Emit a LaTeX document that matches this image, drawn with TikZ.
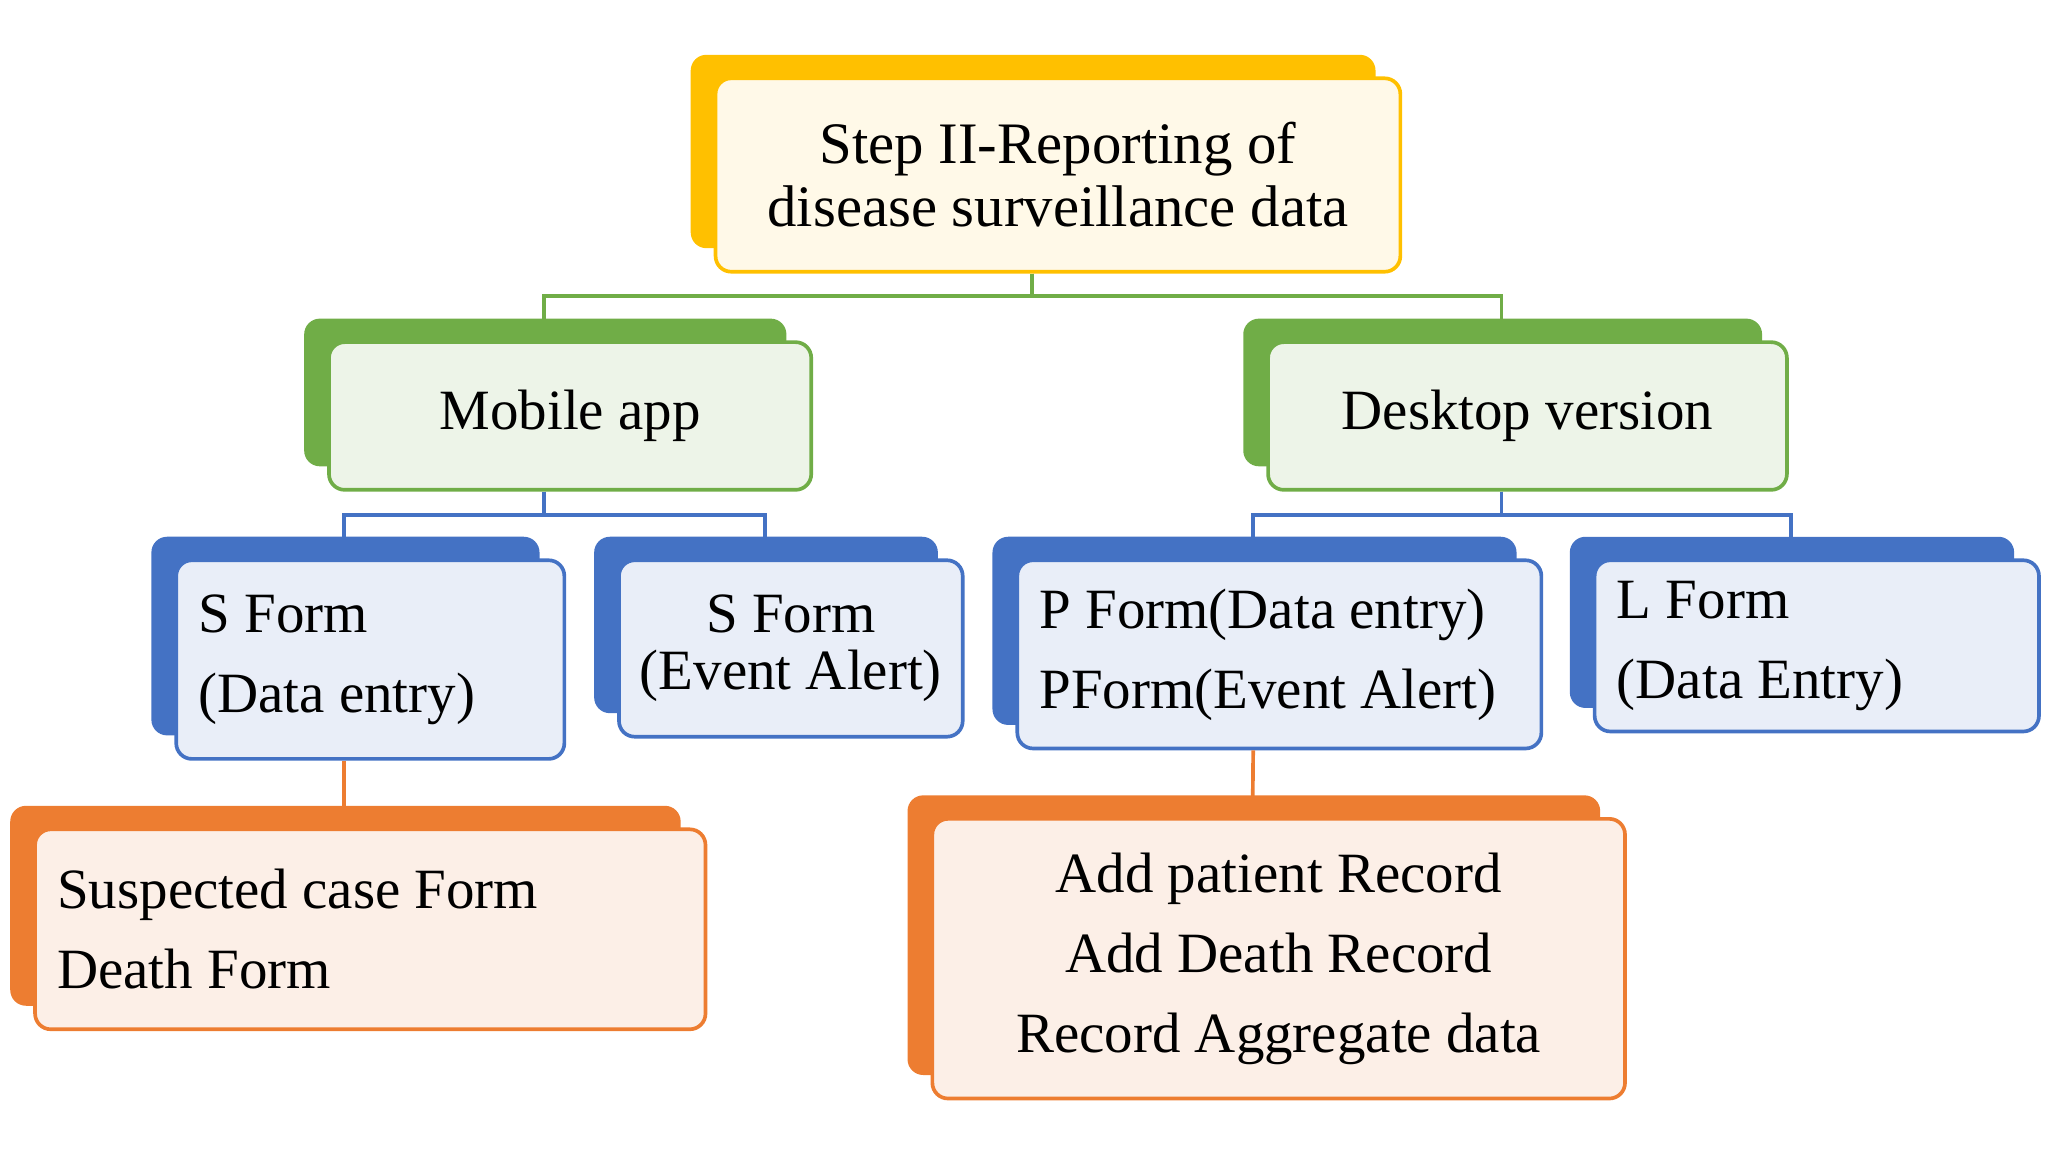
\documentclass[tikz,border=0pt]{standalone}
\usepackage{fontspec}
\setmainfont{Liberation Serif}
\usetikzlibrary{shadows}
\definecolor{ylw}{HTML}{FFC000}
\definecolor{grn}{HTML}{70AD47}
\definecolor{blu}{HTML}{4472C4}
\definecolor{org}{HTML}{ED7D31}
\definecolor{ylwl}{HTML}{FFF9E8}
\definecolor{grnl}{HTML}{EDF4E8}
\definecolor{blul}{HTML}{E9EEF8}
\definecolor{orgl}{HTML}{FCEFE7}

\tikzset{
  box/.style={rectangle, rounded corners=0.12cm, draw=#1, fill=#1l, line width=0.8pt,
    general shadow={fill=#1, shadow xshift=-0.19cm, shadow yshift=0.18cm}},
  leftbox/.style={align=flush left, inner xsep=0.17cm, text width=#1},
  link/.style={draw=#1, line width=0.8pt}
}

\begin{document}
\begin{tikzpicture}[x=0.01cm, y=-0.01cm, font=\fontsize{12.4}{17.4}\selectfont]
    \useasboundingbox (0,0) rectangle (1568,882);

    \node[box=ylw, minimum width=5.24cm, minimum height=1.48cm, align=center,
          font=\fontsize{12.8}{13.7}\selectfont] (top) at (810,134) {Step II-Reporting of\\disease surveillance data};

    \node[box=grn, minimum width=3.69cm, minimum height=1.13cm] (mob) at (436.5,318.5) {Mobile app};
    \node[box=grn, minimum width=3.97cm, minimum height=1.13cm] (desk) at (1169.5,318.5) {Desktop version};

    \node[box=blu, leftbox=2.63cm, minimum height=1.52cm] (sfd) at (283.5,505) {S Form\\(Data entry)};
    \node[box=blu, minimum width=2.63cm, minimum height=1.35cm, align=center,
          font=\fontsize{12.4}{12.5}\selectfont] (sfe) at (605.5,496.5) {S Form\\(Event Alert)};
    \node[box=blu, leftbox=3.67cm, minimum height=1.44cm] (pf) at (979.5,501) {P Form(Data entry)\\PForm(Event Alert)};
    \node[box=blu, leftbox=3.06cm, minimum height=1.31cm] (lf) at (1391,494.5) {L Form\\(Data Entry)};

    \node[box=org, leftbox=4.79cm, minimum height=1.53cm] (sus) at (283.5,711.5) {Suspected case Form\\Death Form};
    \node[box=org, minimum width=5.30cm, minimum height=2.14cm, align=center] (add) at (979,734)
        {Add patient Record\\Add Death Record\\Record Aggregate data};

    \draw[link=grn] ([xshift=-0.2cm]top.south) -- ++(0,17) -| ([xshift=-0.2cm]mob.north);
    \draw[link=grn] ([xshift=-0.2cm]top.south) -- ++(0,17) -| ([xshift=-0.2cm]desk.north);

    \draw[link=blu] ([xshift=-0.2cm]mob.south) -- ++(0,18) -| ([xshift=-0.2cm]sfd.north);
    \draw[link=blu] ([xshift=-0.2cm]mob.south) -- ++(0,18) -| ([xshift=-0.2cm]sfe.north);
    \draw[link=blu] ([xshift=-0.2cm]desk.south) -- ++(0,18) -| ([xshift=-0.2cm]pf.north);
    \draw[link=blu] ([xshift=-0.2cm]desk.south) -- ++(0,18) -| ([xshift=-0.2cm]lf.north);

    \draw[link=org] ([xshift=-0.2cm]sfd.south) -- ([xshift=-0.2cm]sus.north);
    \draw[link=org] ([xshift=-0.2cm]pf.south) -- ([xshift=-0.2cm]add.north);
\end{tikzpicture}
\end{document}
